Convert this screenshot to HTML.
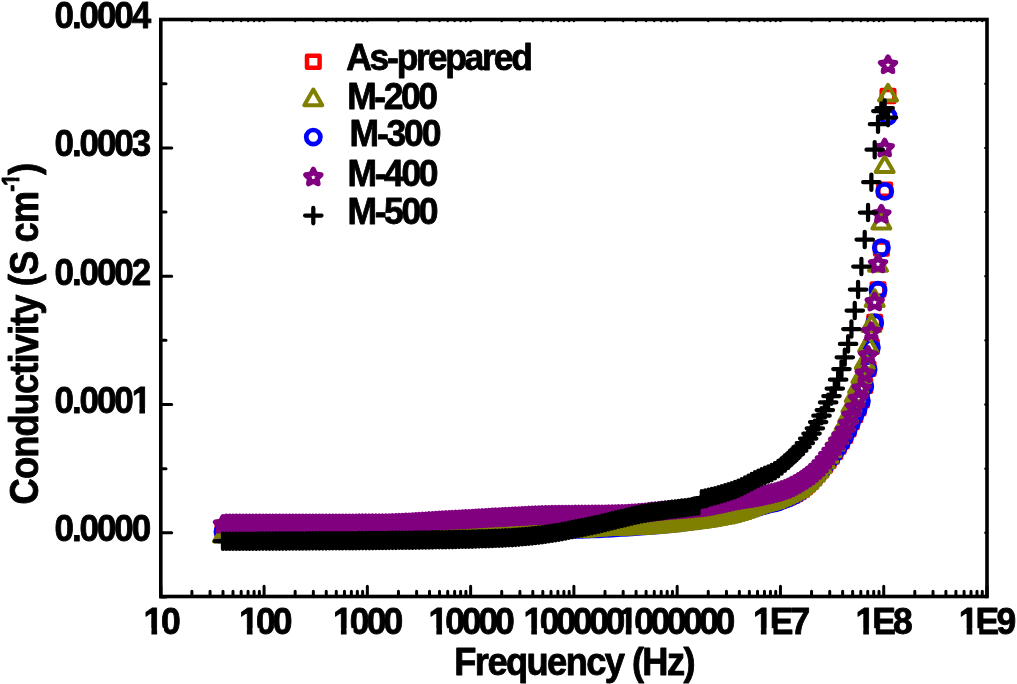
<!DOCTYPE html>
<html lang="en"><head><meta charset="utf-8"><title>Conductivity vs Frequency</title>
<style>html,body{margin:0;padding:0;background:#fff}body{width:1017px;height:684px;overflow:hidden}</style>
</head><body>
<svg width="1017" height="684" viewBox="0 0 1017 684" style="display:block">
<defs>
<g id="sq"><rect x="-6.3" y="-6.0" width="12.6" height="12.0" fill="none" stroke-width="4.5" stroke-linejoin="round"/></g>
<g id="tri"><polygon points="0,-10.4 9.0,5.2 -9.0,5.2" fill="none" stroke-width="4.0" stroke-linejoin="round"/></g>
<g id="cir"><circle r="7.1" fill="none" stroke-width="4.7"/></g>
<g id="star"><polygon points="0.00,-8.00 2.35,-3.24 7.61,-2.47 3.80,1.24 4.70,6.47 0.00,4.00 -4.70,6.47 -3.80,1.24 -7.61,-2.47 -2.35,-3.24" fill="none" stroke-width="5.2" stroke-linejoin="round"/></g>
<g id="plus"><path d="M-8.2,0H8.2M0,-7.7V7.7" fill="none" stroke-width="4.25" stroke-linecap="round"/></g>
<filter id="bl" x="0" y="0" width="100%" height="100%" filterUnits="userSpaceOnUse" primitiveUnits="userSpaceOnUse"><feGaussianBlur stdDeviation="0.7"/></filter>
</defs>
<rect x="0" y="0" width="1017" height="684" fill="#fff" stroke="none"/>
<g filter="url(#bl)">
<rect x="-5" y="-5" width="1027" height="694" fill="#fff" stroke="none"/>
<g stroke="#ff0000">
<use href="#sq" x="222.98" y="530.5"/><use href="#sq" x="226.30" y="529.7"/><use href="#sq" x="229.63" y="529.7"/><use href="#sq" x="232.95" y="529.7"/><use href="#sq" x="236.28" y="529.7"/><use href="#sq" x="239.60" y="529.7"/><use href="#sq" x="242.93" y="529.7"/><use href="#sq" x="246.25" y="529.7"/><use href="#sq" x="249.58" y="529.7"/><use href="#sq" x="252.90" y="529.7"/><use href="#sq" x="256.23" y="529.7"/><use href="#sq" x="259.55" y="529.7"/><use href="#sq" x="262.88" y="529.7"/><use href="#sq" x="266.20" y="529.7"/><use href="#sq" x="269.53" y="529.7"/><use href="#sq" x="272.85" y="529.7"/><use href="#sq" x="276.18" y="529.7"/><use href="#sq" x="279.50" y="529.7"/><use href="#sq" x="282.83" y="529.7"/><use href="#sq" x="286.15" y="529.7"/><use href="#sq" x="289.48" y="529.7"/><use href="#sq" x="292.81" y="529.7"/><use href="#sq" x="296.13" y="529.7"/><use href="#sq" x="299.46" y="529.7"/><use href="#sq" x="302.78" y="529.7"/><use href="#sq" x="306.11" y="529.7"/><use href="#sq" x="309.43" y="529.7"/><use href="#sq" x="312.76" y="529.7"/><use href="#sq" x="316.08" y="529.7"/><use href="#sq" x="319.41" y="529.7"/><use href="#sq" x="322.73" y="529.7"/><use href="#sq" x="326.06" y="529.7"/><use href="#sq" x="329.38" y="529.7"/><use href="#sq" x="332.71" y="529.7"/><use href="#sq" x="336.03" y="529.7"/><use href="#sq" x="339.36" y="529.7"/><use href="#sq" x="342.68" y="529.7"/><use href="#sq" x="346.01" y="529.7"/><use href="#sq" x="349.33" y="529.7"/><use href="#sq" x="352.66" y="529.7"/><use href="#sq" x="355.98" y="529.7"/><use href="#sq" x="359.31" y="529.7"/><use href="#sq" x="362.63" y="529.7"/><use href="#sq" x="365.96" y="529.7"/><use href="#sq" x="369.28" y="529.7"/><use href="#sq" x="372.61" y="529.7"/><use href="#sq" x="375.93" y="529.7"/><use href="#sq" x="379.26" y="529.7"/><use href="#sq" x="382.58" y="529.7"/><use href="#sq" x="385.91" y="529.7"/><use href="#sq" x="389.23" y="529.7"/><use href="#sq" x="392.56" y="529.7"/><use href="#sq" x="395.88" y="529.7"/><use href="#sq" x="399.21" y="529.7"/><use href="#sq" x="402.53" y="529.7"/><use href="#sq" x="405.86" y="529.7"/><use href="#sq" x="409.18" y="529.7"/><use href="#sq" x="412.51" y="529.6"/><use href="#sq" x="415.83" y="529.6"/><use href="#sq" x="419.16" y="529.6"/><use href="#sq" x="422.48" y="529.6"/><use href="#sq" x="425.81" y="529.6"/><use href="#sq" x="429.13" y="529.6"/><use href="#sq" x="432.46" y="529.6"/><use href="#sq" x="435.78" y="529.6"/><use href="#sq" x="439.11" y="529.5"/><use href="#sq" x="442.44" y="529.5"/><use href="#sq" x="445.76" y="529.5"/><use href="#sq" x="449.09" y="529.5"/><use href="#sq" x="452.41" y="529.5"/><use href="#sq" x="455.74" y="529.5"/><use href="#sq" x="459.06" y="529.4"/><use href="#sq" x="462.39" y="529.4"/><use href="#sq" x="465.71" y="529.4"/><use href="#sq" x="469.04" y="529.4"/><use href="#sq" x="472.36" y="529.4"/><use href="#sq" x="475.69" y="529.3"/><use href="#sq" x="479.01" y="529.3"/><use href="#sq" x="482.34" y="529.3"/><use href="#sq" x="485.66" y="529.3"/><use href="#sq" x="488.99" y="529.3"/><use href="#sq" x="492.31" y="529.2"/><use href="#sq" x="495.64" y="529.2"/><use href="#sq" x="498.96" y="529.2"/><use href="#sq" x="502.29" y="529.2"/><use href="#sq" x="505.61" y="529.2"/><use href="#sq" x="508.94" y="529.1"/><use href="#sq" x="512.26" y="529.1"/><use href="#sq" x="515.59" y="529.1"/><use href="#sq" x="518.91" y="529.1"/><use href="#sq" x="522.24" y="529.1"/><use href="#sq" x="525.56" y="529.0"/><use href="#sq" x="528.89" y="529.0"/><use href="#sq" x="532.21" y="529.0"/><use href="#sq" x="535.54" y="529.0"/><use href="#sq" x="538.86" y="528.9"/><use href="#sq" x="542.19" y="528.9"/><use href="#sq" x="545.51" y="528.9"/><use href="#sq" x="548.84" y="528.8"/><use href="#sq" x="552.16" y="528.8"/><use href="#sq" x="555.49" y="528.8"/><use href="#sq" x="558.81" y="528.7"/><use href="#sq" x="562.14" y="528.7"/><use href="#sq" x="565.46" y="528.6"/><use href="#sq" x="568.79" y="528.6"/><use href="#sq" x="572.11" y="528.6"/><use href="#sq" x="575.44" y="528.5"/><use href="#sq" x="578.76" y="528.4"/><use href="#sq" x="582.09" y="528.4"/><use href="#sq" x="585.41" y="528.3"/><use href="#sq" x="588.74" y="528.2"/><use href="#sq" x="592.07" y="528.1"/><use href="#sq" x="595.39" y="528.0"/><use href="#sq" x="598.72" y="527.9"/><use href="#sq" x="602.04" y="527.7"/><use href="#sq" x="605.37" y="527.6"/><use href="#sq" x="608.69" y="527.4"/><use href="#sq" x="612.02" y="527.2"/><use href="#sq" x="615.34" y="527.0"/><use href="#sq" x="618.67" y="526.8"/><use href="#sq" x="621.99" y="526.6"/><use href="#sq" x="625.32" y="526.4"/><use href="#sq" x="628.64" y="526.2"/><use href="#sq" x="631.97" y="525.9"/><use href="#sq" x="635.29" y="525.7"/><use href="#sq" x="638.62" y="525.5"/><use href="#sq" x="641.94" y="525.2"/><use href="#sq" x="645.27" y="525.0"/><use href="#sq" x="648.59" y="524.7"/><use href="#sq" x="651.92" y="524.5"/><use href="#sq" x="655.24" y="524.2"/><use href="#sq" x="658.57" y="523.9"/><use href="#sq" x="661.89" y="523.6"/><use href="#sq" x="665.22" y="523.3"/><use href="#sq" x="668.54" y="523.0"/><use href="#sq" x="671.87" y="522.6"/><use href="#sq" x="675.19" y="522.2"/><use href="#sq" x="678.52" y="521.9"/><use href="#sq" x="681.84" y="521.5"/><use href="#sq" x="685.17" y="521.1"/><use href="#sq" x="688.49" y="520.7"/><use href="#sq" x="691.82" y="520.3"/><use href="#sq" x="695.14" y="519.8"/><use href="#sq" x="698.47" y="519.4"/><use href="#sq" x="701.79" y="518.9"/><use href="#sq" x="705.12" y="518.5"/><use href="#sq" x="708.44" y="518.0"/><use href="#sq" x="711.77" y="517.4"/><use href="#sq" x="715.09" y="516.9"/><use href="#sq" x="718.42" y="516.3"/><use href="#sq" x="721.74" y="515.7"/><use href="#sq" x="725.07" y="515.0"/><use href="#sq" x="728.39" y="514.4"/><use href="#sq" x="731.72" y="513.7"/><use href="#sq" x="735.04" y="512.9"/><use href="#sq" x="738.37" y="512.1"/><use href="#sq" x="741.69" y="511.2"/><use href="#sq" x="745.02" y="510.2"/><use href="#sq" x="748.35" y="509.2"/><use href="#sq" x="751.67" y="508.2"/><use href="#sq" x="755.00" y="507.2"/><use href="#sq" x="758.32" y="506.2"/><use href="#sq" x="761.65" y="505.3"/><use href="#sq" x="764.97" y="504.4"/><use href="#sq" x="768.30" y="503.6"/><use href="#sq" x="771.62" y="502.7"/><use href="#sq" x="774.95" y="501.9"/><use href="#sq" x="778.27" y="500.9"/><use href="#sq" x="781.60" y="499.8"/><use href="#sq" x="784.92" y="498.6"/><use href="#sq" x="788.25" y="497.2"/><use href="#sq" x="791.57" y="495.7"/><use href="#sq" x="794.90" y="494.0"/><use href="#sq" x="798.22" y="492.0"/><use href="#sq" x="801.55" y="489.7"/><use href="#sq" x="804.87" y="486.8"/><use href="#sq" x="808.20" y="483.4"/><use href="#sq" x="811.52" y="479.8"/><use href="#sq" x="814.85" y="476.1"/><use href="#sq" x="818.17" y="472.4"/><use href="#sq" x="821.50" y="468.7"/><use href="#sq" x="824.82" y="464.9"/><use href="#sq" x="828.15" y="460.8"/><use href="#sq" x="831.47" y="456.5"/><use href="#sq" x="834.80" y="451.7"/><use href="#sq" x="838.12" y="446.6"/><use href="#sq" x="841.45" y="441.3"/><use href="#sq" x="844.77" y="435.7"/><use href="#sq" x="848.10" y="429.3"/><use href="#sq" x="851.42" y="421.9"/><use href="#sq" x="854.75" y="415.0"/><use href="#sq" x="858.07" y="408.2"/><use href="#sq" x="861.40" y="400.2"/><use href="#sq" x="864.72" y="385.7"/><use href="#sq" x="868.05" y="368.7"/><use href="#sq" x="871.37" y="346.8"/><use href="#sq" x="874.70" y="322.0"/><use href="#sq" x="878.02" y="289.4"/><use href="#sq" x="881.35" y="248.5"/><use href="#sq" x="884.67" y="189.7"/><use href="#sq" x="888.00" y="96.0"/>
</g>
<g stroke="#0000ff">
<use href="#cir" x="222.98" y="531.8"/><use href="#cir" x="226.30" y="530.5"/><use href="#cir" x="229.63" y="530.5"/><use href="#cir" x="232.95" y="530.5"/><use href="#cir" x="236.28" y="530.5"/><use href="#cir" x="239.60" y="530.5"/><use href="#cir" x="242.93" y="530.5"/><use href="#cir" x="246.25" y="530.5"/><use href="#cir" x="249.58" y="530.5"/><use href="#cir" x="252.90" y="530.5"/><use href="#cir" x="256.23" y="530.5"/><use href="#cir" x="259.55" y="530.5"/><use href="#cir" x="262.88" y="530.5"/><use href="#cir" x="266.20" y="530.5"/><use href="#cir" x="269.53" y="530.5"/><use href="#cir" x="272.85" y="530.5"/><use href="#cir" x="276.18" y="530.5"/><use href="#cir" x="279.50" y="530.5"/><use href="#cir" x="282.83" y="530.5"/><use href="#cir" x="286.15" y="530.5"/><use href="#cir" x="289.48" y="530.5"/><use href="#cir" x="292.81" y="530.5"/><use href="#cir" x="296.13" y="530.5"/><use href="#cir" x="299.46" y="530.5"/><use href="#cir" x="302.78" y="530.5"/><use href="#cir" x="306.11" y="530.5"/><use href="#cir" x="309.43" y="530.5"/><use href="#cir" x="312.76" y="530.5"/><use href="#cir" x="316.08" y="530.5"/><use href="#cir" x="319.41" y="530.5"/><use href="#cir" x="322.73" y="530.5"/><use href="#cir" x="326.06" y="530.5"/><use href="#cir" x="329.38" y="530.5"/><use href="#cir" x="332.71" y="530.5"/><use href="#cir" x="336.03" y="530.5"/><use href="#cir" x="339.36" y="530.5"/><use href="#cir" x="342.68" y="530.5"/><use href="#cir" x="346.01" y="530.5"/><use href="#cir" x="349.33" y="530.5"/><use href="#cir" x="352.66" y="530.5"/><use href="#cir" x="355.98" y="530.5"/><use href="#cir" x="359.31" y="530.5"/><use href="#cir" x="362.63" y="530.5"/><use href="#cir" x="365.96" y="530.5"/><use href="#cir" x="369.28" y="530.5"/><use href="#cir" x="372.61" y="530.5"/><use href="#cir" x="375.93" y="530.5"/><use href="#cir" x="379.26" y="530.5"/><use href="#cir" x="382.58" y="530.5"/><use href="#cir" x="385.91" y="530.5"/><use href="#cir" x="389.23" y="530.5"/><use href="#cir" x="392.56" y="530.5"/><use href="#cir" x="395.88" y="530.5"/><use href="#cir" x="399.21" y="530.5"/><use href="#cir" x="402.53" y="530.5"/><use href="#cir" x="405.86" y="530.5"/><use href="#cir" x="409.18" y="530.5"/><use href="#cir" x="412.51" y="530.4"/><use href="#cir" x="415.83" y="530.4"/><use href="#cir" x="419.16" y="530.4"/><use href="#cir" x="422.48" y="530.4"/><use href="#cir" x="425.81" y="530.4"/><use href="#cir" x="429.13" y="530.4"/><use href="#cir" x="432.46" y="530.4"/><use href="#cir" x="435.78" y="530.4"/><use href="#cir" x="439.11" y="530.3"/><use href="#cir" x="442.44" y="530.3"/><use href="#cir" x="445.76" y="530.3"/><use href="#cir" x="449.09" y="530.3"/><use href="#cir" x="452.41" y="530.3"/><use href="#cir" x="455.74" y="530.3"/><use href="#cir" x="459.06" y="530.2"/><use href="#cir" x="462.39" y="530.2"/><use href="#cir" x="465.71" y="530.2"/><use href="#cir" x="469.04" y="530.2"/><use href="#cir" x="472.36" y="530.2"/><use href="#cir" x="475.69" y="530.1"/><use href="#cir" x="479.01" y="530.1"/><use href="#cir" x="482.34" y="530.1"/><use href="#cir" x="485.66" y="530.1"/><use href="#cir" x="488.99" y="530.1"/><use href="#cir" x="492.31" y="530.0"/><use href="#cir" x="495.64" y="530.0"/><use href="#cir" x="498.96" y="530.0"/><use href="#cir" x="502.29" y="530.0"/><use href="#cir" x="505.61" y="530.0"/><use href="#cir" x="508.94" y="529.9"/><use href="#cir" x="512.26" y="529.9"/><use href="#cir" x="515.59" y="529.9"/><use href="#cir" x="518.91" y="529.9"/><use href="#cir" x="522.24" y="529.9"/><use href="#cir" x="525.56" y="529.8"/><use href="#cir" x="528.89" y="529.8"/><use href="#cir" x="532.21" y="529.8"/><use href="#cir" x="535.54" y="529.8"/><use href="#cir" x="538.86" y="529.7"/><use href="#cir" x="542.19" y="529.7"/><use href="#cir" x="545.51" y="529.7"/><use href="#cir" x="548.84" y="529.6"/><use href="#cir" x="552.16" y="529.6"/><use href="#cir" x="555.49" y="529.6"/><use href="#cir" x="558.81" y="529.5"/><use href="#cir" x="562.14" y="529.5"/><use href="#cir" x="565.46" y="529.4"/><use href="#cir" x="568.79" y="529.4"/><use href="#cir" x="572.11" y="529.4"/><use href="#cir" x="575.44" y="529.3"/><use href="#cir" x="578.76" y="529.2"/><use href="#cir" x="582.09" y="529.2"/><use href="#cir" x="585.41" y="529.1"/><use href="#cir" x="588.74" y="529.0"/><use href="#cir" x="592.07" y="528.9"/><use href="#cir" x="595.39" y="528.8"/><use href="#cir" x="598.72" y="528.7"/><use href="#cir" x="602.04" y="528.5"/><use href="#cir" x="605.37" y="528.4"/><use href="#cir" x="608.69" y="528.2"/><use href="#cir" x="612.02" y="528.0"/><use href="#cir" x="615.34" y="527.8"/><use href="#cir" x="618.67" y="527.6"/><use href="#cir" x="621.99" y="527.4"/><use href="#cir" x="625.32" y="527.2"/><use href="#cir" x="628.64" y="527.0"/><use href="#cir" x="631.97" y="526.7"/><use href="#cir" x="635.29" y="526.5"/><use href="#cir" x="638.62" y="526.3"/><use href="#cir" x="641.94" y="526.0"/><use href="#cir" x="645.27" y="525.8"/><use href="#cir" x="648.59" y="525.5"/><use href="#cir" x="651.92" y="525.3"/><use href="#cir" x="655.24" y="525.0"/><use href="#cir" x="658.57" y="524.7"/><use href="#cir" x="661.89" y="524.4"/><use href="#cir" x="665.22" y="524.1"/><use href="#cir" x="668.54" y="523.8"/><use href="#cir" x="671.87" y="523.4"/><use href="#cir" x="675.19" y="523.0"/><use href="#cir" x="678.52" y="522.7"/><use href="#cir" x="681.84" y="522.3"/><use href="#cir" x="685.17" y="521.9"/><use href="#cir" x="688.49" y="521.5"/><use href="#cir" x="691.82" y="521.1"/><use href="#cir" x="695.14" y="520.6"/><use href="#cir" x="698.47" y="520.2"/><use href="#cir" x="701.79" y="519.7"/><use href="#cir" x="705.12" y="519.3"/><use href="#cir" x="708.44" y="518.8"/><use href="#cir" x="711.77" y="518.2"/><use href="#cir" x="715.09" y="517.7"/><use href="#cir" x="718.42" y="517.1"/><use href="#cir" x="721.74" y="516.5"/><use href="#cir" x="725.07" y="515.8"/><use href="#cir" x="728.39" y="515.2"/><use href="#cir" x="731.72" y="514.5"/><use href="#cir" x="735.04" y="513.7"/><use href="#cir" x="738.37" y="512.9"/><use href="#cir" x="741.69" y="512.0"/><use href="#cir" x="745.02" y="511.0"/><use href="#cir" x="748.35" y="510.0"/><use href="#cir" x="751.67" y="509.0"/><use href="#cir" x="755.00" y="508.0"/><use href="#cir" x="758.32" y="507.0"/><use href="#cir" x="761.65" y="506.1"/><use href="#cir" x="764.97" y="505.2"/><use href="#cir" x="768.30" y="504.4"/><use href="#cir" x="771.62" y="503.5"/><use href="#cir" x="774.95" y="502.7"/><use href="#cir" x="778.27" y="501.7"/><use href="#cir" x="781.60" y="500.6"/><use href="#cir" x="784.92" y="499.4"/><use href="#cir" x="788.25" y="498.0"/><use href="#cir" x="791.57" y="496.5"/><use href="#cir" x="794.90" y="494.8"/><use href="#cir" x="798.22" y="492.8"/><use href="#cir" x="801.55" y="490.5"/><use href="#cir" x="804.87" y="487.6"/><use href="#cir" x="808.20" y="484.2"/><use href="#cir" x="811.52" y="480.6"/><use href="#cir" x="814.85" y="476.9"/><use href="#cir" x="818.17" y="473.2"/><use href="#cir" x="821.50" y="469.5"/><use href="#cir" x="824.82" y="465.7"/><use href="#cir" x="828.15" y="461.6"/><use href="#cir" x="831.47" y="457.3"/><use href="#cir" x="834.80" y="452.5"/><use href="#cir" x="838.12" y="447.4"/><use href="#cir" x="841.45" y="442.1"/><use href="#cir" x="844.77" y="436.5"/><use href="#cir" x="848.10" y="430.1"/><use href="#cir" x="851.42" y="422.7"/><use href="#cir" x="854.75" y="415.8"/><use href="#cir" x="858.07" y="409.0"/><use href="#cir" x="861.40" y="401.0"/><use href="#cir" x="864.72" y="386.5"/><use href="#cir" x="868.05" y="369.5"/><use href="#cir" x="871.37" y="347.6"/><use href="#cir" x="874.70" y="322.8"/><use href="#cir" x="878.02" y="290.2"/><use href="#cir" x="881.35" y="247.8"/><use href="#cir" x="884.67" y="191.4"/><use href="#cir" x="888.00" y="116.3"/>
</g>
<g stroke="#808000">
<use href="#tri" x="222.98" y="536.4"/><use href="#tri" x="226.30" y="531.5"/><use href="#tri" x="229.63" y="531.5"/><use href="#tri" x="232.95" y="531.5"/><use href="#tri" x="236.28" y="531.5"/><use href="#tri" x="239.60" y="531.5"/><use href="#tri" x="242.93" y="531.5"/><use href="#tri" x="246.25" y="531.5"/><use href="#tri" x="249.58" y="531.5"/><use href="#tri" x="252.90" y="531.5"/><use href="#tri" x="256.23" y="531.5"/><use href="#tri" x="259.55" y="531.5"/><use href="#tri" x="262.88" y="531.5"/><use href="#tri" x="266.20" y="531.5"/><use href="#tri" x="269.53" y="531.5"/><use href="#tri" x="272.85" y="531.5"/><use href="#tri" x="276.18" y="531.5"/><use href="#tri" x="279.50" y="531.5"/><use href="#tri" x="282.83" y="531.5"/><use href="#tri" x="286.15" y="531.5"/><use href="#tri" x="289.48" y="531.5"/><use href="#tri" x="292.81" y="531.5"/><use href="#tri" x="296.13" y="531.5"/><use href="#tri" x="299.46" y="531.5"/><use href="#tri" x="302.78" y="531.5"/><use href="#tri" x="306.11" y="531.5"/><use href="#tri" x="309.43" y="531.5"/><use href="#tri" x="312.76" y="531.5"/><use href="#tri" x="316.08" y="531.5"/><use href="#tri" x="319.41" y="531.5"/><use href="#tri" x="322.73" y="531.5"/><use href="#tri" x="326.06" y="531.5"/><use href="#tri" x="329.38" y="531.5"/><use href="#tri" x="332.71" y="531.5"/><use href="#tri" x="336.03" y="531.5"/><use href="#tri" x="339.36" y="531.5"/><use href="#tri" x="342.68" y="531.5"/><use href="#tri" x="346.01" y="531.5"/><use href="#tri" x="349.33" y="531.5"/><use href="#tri" x="352.66" y="531.5"/><use href="#tri" x="355.98" y="531.5"/><use href="#tri" x="359.31" y="531.5"/><use href="#tri" x="362.63" y="531.5"/><use href="#tri" x="365.96" y="531.5"/><use href="#tri" x="369.28" y="531.5"/><use href="#tri" x="372.61" y="531.5"/><use href="#tri" x="375.93" y="531.5"/><use href="#tri" x="379.26" y="531.5"/><use href="#tri" x="382.58" y="531.5"/><use href="#tri" x="385.91" y="531.5"/><use href="#tri" x="389.23" y="531.5"/><use href="#tri" x="392.56" y="531.5"/><use href="#tri" x="395.88" y="531.5"/><use href="#tri" x="399.21" y="531.5"/><use href="#tri" x="402.53" y="531.5"/><use href="#tri" x="405.86" y="531.5"/><use href="#tri" x="409.18" y="531.5"/><use href="#tri" x="412.51" y="531.5"/><use href="#tri" x="415.83" y="531.5"/><use href="#tri" x="419.16" y="531.5"/><use href="#tri" x="422.48" y="531.5"/><use href="#tri" x="425.81" y="531.5"/><use href="#tri" x="429.13" y="531.5"/><use href="#tri" x="432.46" y="531.5"/><use href="#tri" x="435.78" y="531.5"/><use href="#tri" x="439.11" y="531.5"/><use href="#tri" x="442.44" y="531.5"/><use href="#tri" x="445.76" y="531.5"/><use href="#tri" x="449.09" y="531.5"/><use href="#tri" x="452.41" y="531.5"/><use href="#tri" x="455.74" y="531.5"/><use href="#tri" x="459.06" y="531.5"/><use href="#tri" x="462.39" y="531.5"/><use href="#tri" x="465.71" y="531.5"/><use href="#tri" x="469.04" y="531.5"/><use href="#tri" x="472.36" y="531.5"/><use href="#tri" x="475.69" y="531.5"/><use href="#tri" x="479.01" y="531.5"/><use href="#tri" x="482.34" y="531.5"/><use href="#tri" x="485.66" y="531.5"/><use href="#tri" x="488.99" y="531.5"/><use href="#tri" x="492.31" y="531.5"/><use href="#tri" x="495.64" y="531.5"/><use href="#tri" x="498.96" y="531.5"/><use href="#tri" x="502.29" y="531.5"/><use href="#tri" x="505.61" y="531.5"/><use href="#tri" x="508.94" y="531.5"/><use href="#tri" x="512.26" y="531.5"/><use href="#tri" x="515.59" y="531.5"/><use href="#tri" x="518.91" y="531.5"/><use href="#tri" x="522.24" y="531.4"/><use href="#tri" x="525.56" y="531.4"/><use href="#tri" x="528.89" y="531.4"/><use href="#tri" x="532.21" y="531.4"/><use href="#tri" x="535.54" y="531.3"/><use href="#tri" x="538.86" y="531.3"/><use href="#tri" x="542.19" y="531.3"/><use href="#tri" x="545.51" y="531.2"/><use href="#tri" x="548.84" y="531.2"/><use href="#tri" x="552.16" y="531.2"/><use href="#tri" x="555.49" y="531.1"/><use href="#tri" x="558.81" y="531.1"/><use href="#tri" x="562.14" y="531.0"/><use href="#tri" x="565.46" y="530.9"/><use href="#tri" x="568.79" y="530.9"/><use href="#tri" x="572.11" y="530.8"/><use href="#tri" x="575.44" y="530.7"/><use href="#tri" x="578.76" y="530.7"/><use href="#tri" x="582.09" y="530.6"/><use href="#tri" x="585.41" y="530.4"/><use href="#tri" x="588.74" y="530.1"/><use href="#tri" x="592.07" y="529.7"/><use href="#tri" x="595.39" y="529.4"/><use href="#tri" x="598.72" y="529.2"/><use href="#tri" x="602.04" y="529.1"/><use href="#tri" x="605.37" y="528.9"/><use href="#tri" x="608.69" y="528.8"/><use href="#tri" x="612.02" y="528.6"/><use href="#tri" x="615.34" y="528.5"/><use href="#tri" x="618.67" y="528.4"/><use href="#tri" x="621.99" y="528.3"/><use href="#tri" x="625.32" y="528.2"/><use href="#tri" x="628.64" y="528.0"/><use href="#tri" x="631.97" y="527.9"/><use href="#tri" x="635.29" y="527.8"/><use href="#tri" x="638.62" y="527.6"/><use href="#tri" x="641.94" y="527.5"/><use href="#tri" x="645.27" y="527.3"/><use href="#tri" x="648.59" y="527.1"/><use href="#tri" x="651.92" y="526.8"/><use href="#tri" x="655.24" y="526.6"/><use href="#tri" x="658.57" y="526.3"/><use href="#tri" x="661.89" y="526.0"/><use href="#tri" x="665.22" y="525.7"/><use href="#tri" x="668.54" y="525.4"/><use href="#tri" x="671.87" y="525.0"/><use href="#tri" x="675.19" y="524.6"/><use href="#tri" x="678.52" y="524.2"/><use href="#tri" x="681.84" y="523.8"/><use href="#tri" x="685.17" y="523.4"/><use href="#tri" x="688.49" y="523.0"/><use href="#tri" x="691.82" y="522.6"/><use href="#tri" x="695.14" y="522.1"/><use href="#tri" x="698.47" y="521.7"/><use href="#tri" x="701.79" y="521.2"/><use href="#tri" x="705.12" y="520.7"/><use href="#tri" x="708.44" y="520.2"/><use href="#tri" x="711.77" y="519.7"/><use href="#tri" x="715.09" y="519.1"/><use href="#tri" x="718.42" y="518.5"/><use href="#tri" x="721.74" y="517.9"/><use href="#tri" x="725.07" y="517.2"/><use href="#tri" x="728.39" y="516.5"/><use href="#tri" x="731.72" y="515.7"/><use href="#tri" x="735.04" y="514.9"/><use href="#tri" x="738.37" y="513.9"/><use href="#tri" x="741.69" y="512.7"/><use href="#tri" x="745.02" y="511.5"/><use href="#tri" x="748.35" y="510.2"/><use href="#tri" x="751.67" y="509.0"/><use href="#tri" x="755.00" y="507.7"/><use href="#tri" x="758.32" y="506.5"/><use href="#tri" x="761.65" y="505.5"/><use href="#tri" x="764.97" y="504.6"/><use href="#tri" x="768.30" y="503.7"/><use href="#tri" x="771.62" y="502.7"/><use href="#tri" x="774.95" y="501.7"/><use href="#tri" x="778.27" y="500.4"/><use href="#tri" x="781.60" y="499.0"/><use href="#tri" x="784.92" y="497.5"/><use href="#tri" x="788.25" y="495.9"/><use href="#tri" x="791.57" y="494.2"/><use href="#tri" x="794.90" y="492.6"/><use href="#tri" x="798.22" y="490.8"/><use href="#tri" x="801.55" y="488.6"/><use href="#tri" x="804.87" y="485.8"/><use href="#tri" x="808.20" y="482.7"/><use href="#tri" x="811.52" y="479.3"/><use href="#tri" x="814.85" y="475.5"/><use href="#tri" x="818.17" y="471.6"/><use href="#tri" x="821.50" y="467.0"/><use href="#tri" x="824.82" y="462.0"/><use href="#tri" x="828.15" y="456.5"/><use href="#tri" x="831.47" y="450.8"/><use href="#tri" x="834.80" y="444.4"/><use href="#tri" x="838.12" y="437.8"/><use href="#tri" x="841.45" y="431.2"/><use href="#tri" x="844.77" y="424.4"/><use href="#tri" x="848.10" y="416.3"/><use href="#tri" x="851.42" y="406.4"/><use href="#tri" x="854.75" y="396.0"/><use href="#tri" x="858.07" y="387.0"/><use href="#tri" x="861.40" y="377.0"/><use href="#tri" x="864.72" y="363.0"/><use href="#tri" x="868.05" y="346.0"/><use href="#tri" x="871.37" y="325.7"/><use href="#tri" x="874.70" y="300.7"/><use href="#tri" x="878.02" y="265.6"/><use href="#tri" x="881.35" y="223.2"/><use href="#tri" x="884.67" y="166.9"/><use href="#tri" x="888.00" y="95.3"/>
</g>
<g stroke="#800080">
<use href="#star" x="222.98" y="524.6"/><use href="#star" x="226.30" y="524.2"/><use href="#star" x="229.63" y="524.2"/><use href="#star" x="232.95" y="524.2"/><use href="#star" x="236.28" y="524.2"/><use href="#star" x="239.60" y="524.2"/><use href="#star" x="242.93" y="524.1"/><use href="#star" x="246.25" y="524.1"/><use href="#star" x="249.58" y="524.1"/><use href="#star" x="252.90" y="524.1"/><use href="#star" x="256.23" y="524.1"/><use href="#star" x="259.55" y="524.1"/><use href="#star" x="262.88" y="524.1"/><use href="#star" x="266.20" y="524.1"/><use href="#star" x="269.53" y="524.1"/><use href="#star" x="272.85" y="524.1"/><use href="#star" x="276.18" y="524.1"/><use href="#star" x="279.50" y="524.1"/><use href="#star" x="282.83" y="524.1"/><use href="#star" x="286.15" y="524.1"/><use href="#star" x="289.48" y="524.1"/><use href="#star" x="292.81" y="524.1"/><use href="#star" x="296.13" y="524.1"/><use href="#star" x="299.46" y="524.1"/><use href="#star" x="302.78" y="524.1"/><use href="#star" x="306.11" y="524.1"/><use href="#star" x="309.43" y="524.1"/><use href="#star" x="312.76" y="524.1"/><use href="#star" x="316.08" y="524.1"/><use href="#star" x="319.41" y="524.1"/><use href="#star" x="322.73" y="524.1"/><use href="#star" x="326.06" y="524.1"/><use href="#star" x="329.38" y="524.1"/><use href="#star" x="332.71" y="524.1"/><use href="#star" x="336.03" y="524.1"/><use href="#star" x="339.36" y="524.1"/><use href="#star" x="342.68" y="524.1"/><use href="#star" x="346.01" y="524.1"/><use href="#star" x="349.33" y="524.1"/><use href="#star" x="352.66" y="524.1"/><use href="#star" x="355.98" y="524.1"/><use href="#star" x="359.31" y="524.0"/><use href="#star" x="362.63" y="524.0"/><use href="#star" x="365.96" y="524.0"/><use href="#star" x="369.28" y="524.0"/><use href="#star" x="372.61" y="524.0"/><use href="#star" x="375.93" y="524.0"/><use href="#star" x="379.26" y="524.0"/><use href="#star" x="382.58" y="524.0"/><use href="#star" x="385.91" y="523.9"/><use href="#star" x="389.23" y="523.9"/><use href="#star" x="392.56" y="523.8"/><use href="#star" x="395.88" y="523.7"/><use href="#star" x="399.21" y="523.5"/><use href="#star" x="402.53" y="523.4"/><use href="#star" x="405.86" y="523.2"/><use href="#star" x="409.18" y="523.1"/><use href="#star" x="412.51" y="522.9"/><use href="#star" x="415.83" y="522.7"/><use href="#star" x="419.16" y="522.5"/><use href="#star" x="422.48" y="522.3"/><use href="#star" x="425.81" y="522.1"/><use href="#star" x="429.13" y="521.8"/><use href="#star" x="432.46" y="521.6"/><use href="#star" x="435.78" y="521.4"/><use href="#star" x="439.11" y="521.2"/><use href="#star" x="442.44" y="521.0"/><use href="#star" x="445.76" y="520.8"/><use href="#star" x="449.09" y="520.6"/><use href="#star" x="452.41" y="520.5"/><use href="#star" x="455.74" y="520.3"/><use href="#star" x="459.06" y="520.1"/><use href="#star" x="462.39" y="519.9"/><use href="#star" x="465.71" y="519.7"/><use href="#star" x="469.04" y="519.6"/><use href="#star" x="472.36" y="519.4"/><use href="#star" x="475.69" y="519.2"/><use href="#star" x="479.01" y="519.0"/><use href="#star" x="482.34" y="518.8"/><use href="#star" x="485.66" y="518.6"/><use href="#star" x="488.99" y="518.4"/><use href="#star" x="492.31" y="518.2"/><use href="#star" x="495.64" y="518.0"/><use href="#star" x="498.96" y="517.9"/><use href="#star" x="502.29" y="517.7"/><use href="#star" x="505.61" y="517.5"/><use href="#star" x="508.94" y="517.4"/><use href="#star" x="512.26" y="517.2"/><use href="#star" x="515.59" y="517.0"/><use href="#star" x="518.91" y="516.9"/><use href="#star" x="522.24" y="516.7"/><use href="#star" x="525.56" y="516.5"/><use href="#star" x="528.89" y="516.3"/><use href="#star" x="532.21" y="516.2"/><use href="#star" x="535.54" y="516.0"/><use href="#star" x="538.86" y="515.9"/><use href="#star" x="542.19" y="515.8"/><use href="#star" x="545.51" y="515.7"/><use href="#star" x="548.84" y="515.6"/><use href="#star" x="552.16" y="515.5"/><use href="#star" x="555.49" y="515.5"/><use href="#star" x="558.81" y="515.4"/><use href="#star" x="562.14" y="515.4"/><use href="#star" x="565.46" y="515.4"/><use href="#star" x="568.79" y="515.4"/><use href="#star" x="572.11" y="515.4"/><use href="#star" x="575.44" y="515.3"/><use href="#star" x="578.76" y="515.3"/><use href="#star" x="582.09" y="515.3"/><use href="#star" x="585.41" y="515.3"/><use href="#star" x="588.74" y="515.3"/><use href="#star" x="592.07" y="515.2"/><use href="#star" x="595.39" y="515.2"/><use href="#star" x="598.72" y="515.2"/><use href="#star" x="602.04" y="515.1"/><use href="#star" x="605.37" y="515.1"/><use href="#star" x="608.69" y="515.0"/><use href="#star" x="612.02" y="514.9"/><use href="#star" x="615.34" y="514.9"/><use href="#star" x="618.67" y="514.8"/><use href="#star" x="621.99" y="514.7"/><use href="#star" x="625.32" y="514.6"/><use href="#star" x="628.64" y="514.4"/><use href="#star" x="631.97" y="514.2"/><use href="#star" x="635.29" y="514.0"/><use href="#star" x="638.62" y="513.7"/><use href="#star" x="641.94" y="513.4"/><use href="#star" x="645.27" y="513.1"/><use href="#star" x="648.59" y="512.7"/><use href="#star" x="651.92" y="512.3"/><use href="#star" x="655.24" y="512.0"/><use href="#star" x="658.57" y="511.6"/><use href="#star" x="661.89" y="511.3"/><use href="#star" x="665.22" y="511.0"/><use href="#star" x="668.54" y="510.7"/><use href="#star" x="671.87" y="510.4"/><use href="#star" x="675.19" y="510.2"/><use href="#star" x="678.52" y="509.9"/><use href="#star" x="681.84" y="509.7"/><use href="#star" x="685.17" y="509.4"/><use href="#star" x="688.49" y="509.1"/><use href="#star" x="691.82" y="508.8"/><use href="#star" x="695.14" y="508.4"/><use href="#star" x="698.47" y="508.1"/><use href="#star" x="701.79" y="507.6"/><use href="#star" x="705.12" y="507.1"/><use href="#star" x="708.44" y="506.5"/><use href="#star" x="711.77" y="505.8"/><use href="#star" x="715.09" y="505.1"/><use href="#star" x="718.42" y="504.4"/><use href="#star" x="721.74" y="503.7"/><use href="#star" x="725.07" y="502.9"/><use href="#star" x="728.39" y="502.2"/><use href="#star" x="731.72" y="501.5"/><use href="#star" x="735.04" y="500.9"/><use href="#star" x="738.37" y="500.3"/><use href="#star" x="741.69" y="499.8"/><use href="#star" x="745.02" y="499.2"/><use href="#star" x="748.35" y="498.7"/><use href="#star" x="751.67" y="498.1"/><use href="#star" x="755.00" y="497.5"/><use href="#star" x="758.32" y="496.9"/><use href="#star" x="761.65" y="496.1"/><use href="#star" x="764.97" y="495.4"/><use href="#star" x="768.30" y="494.6"/><use href="#star" x="771.62" y="493.8"/><use href="#star" x="774.95" y="492.9"/><use href="#star" x="778.27" y="491.9"/><use href="#star" x="781.60" y="490.8"/><use href="#star" x="784.92" y="489.6"/><use href="#star" x="788.25" y="488.1"/><use href="#star" x="791.57" y="486.5"/><use href="#star" x="794.90" y="484.7"/><use href="#star" x="798.22" y="482.8"/><use href="#star" x="801.55" y="480.7"/><use href="#star" x="804.87" y="478.5"/><use href="#star" x="808.20" y="476.2"/><use href="#star" x="811.52" y="473.6"/><use href="#star" x="814.85" y="470.7"/><use href="#star" x="818.17" y="467.7"/><use href="#star" x="821.50" y="464.2"/><use href="#star" x="824.82" y="460.3"/><use href="#star" x="828.15" y="456.1"/><use href="#star" x="831.47" y="451.7"/><use href="#star" x="834.80" y="446.8"/><use href="#star" x="838.12" y="441.6"/><use href="#star" x="841.45" y="436.3"/><use href="#star" x="844.77" y="430.7"/><use href="#star" x="848.10" y="424.0"/><use href="#star" x="851.42" y="415.8"/><use href="#star" x="854.75" y="407.7"/><use href="#star" x="858.07" y="399.1"/><use href="#star" x="861.40" y="388.9"/><use href="#star" x="864.72" y="373.9"/><use href="#star" x="868.05" y="355.6"/><use href="#star" x="871.37" y="332.0"/><use href="#star" x="874.70" y="302.3"/><use href="#star" x="878.02" y="264.2"/><use href="#star" x="881.35" y="214.5"/><use href="#star" x="884.67" y="148.3"/><use href="#star" x="888.00" y="65.0"/>
</g>
<g stroke="#000000">
<use href="#plus" x="222.98" y="541.2"/><use href="#plus" x="226.30" y="541.2"/><use href="#plus" x="229.63" y="541.2"/><use href="#plus" x="232.95" y="541.2"/><use href="#plus" x="236.28" y="541.2"/><use href="#plus" x="239.60" y="541.2"/><use href="#plus" x="242.93" y="541.2"/><use href="#plus" x="246.25" y="541.2"/><use href="#plus" x="249.58" y="541.2"/><use href="#plus" x="252.90" y="541.2"/><use href="#plus" x="256.23" y="541.2"/><use href="#plus" x="259.55" y="541.1"/><use href="#plus" x="262.88" y="541.1"/><use href="#plus" x="266.20" y="541.1"/><use href="#plus" x="269.53" y="541.1"/><use href="#plus" x="272.85" y="541.1"/><use href="#plus" x="276.18" y="541.1"/><use href="#plus" x="279.50" y="541.1"/><use href="#plus" x="282.83" y="541.1"/><use href="#plus" x="286.15" y="541.1"/><use href="#plus" x="289.48" y="541.0"/><use href="#plus" x="292.81" y="541.0"/><use href="#plus" x="296.13" y="541.0"/><use href="#plus" x="299.46" y="541.0"/><use href="#plus" x="302.78" y="541.0"/><use href="#plus" x="306.11" y="541.0"/><use href="#plus" x="309.43" y="540.9"/><use href="#plus" x="312.76" y="540.9"/><use href="#plus" x="316.08" y="540.9"/><use href="#plus" x="319.41" y="540.9"/><use href="#plus" x="322.73" y="540.9"/><use href="#plus" x="326.06" y="540.9"/><use href="#plus" x="329.38" y="540.8"/><use href="#plus" x="332.71" y="540.8"/><use href="#plus" x="336.03" y="540.8"/><use href="#plus" x="339.36" y="540.8"/><use href="#plus" x="342.68" y="540.8"/><use href="#plus" x="346.01" y="540.7"/><use href="#plus" x="349.33" y="540.7"/><use href="#plus" x="352.66" y="540.7"/><use href="#plus" x="355.98" y="540.7"/><use href="#plus" x="359.31" y="540.6"/><use href="#plus" x="362.63" y="540.6"/><use href="#plus" x="365.96" y="540.6"/><use href="#plus" x="369.28" y="540.6"/><use href="#plus" x="372.61" y="540.6"/><use href="#plus" x="375.93" y="540.5"/><use href="#plus" x="379.26" y="540.5"/><use href="#plus" x="382.58" y="540.5"/><use href="#plus" x="385.91" y="540.5"/><use href="#plus" x="389.23" y="540.4"/><use href="#plus" x="392.56" y="540.4"/><use href="#plus" x="395.88" y="540.4"/><use href="#plus" x="399.21" y="540.3"/><use href="#plus" x="402.53" y="540.3"/><use href="#plus" x="405.86" y="540.3"/><use href="#plus" x="409.18" y="540.2"/><use href="#plus" x="412.51" y="540.2"/><use href="#plus" x="415.83" y="540.1"/><use href="#plus" x="419.16" y="540.1"/><use href="#plus" x="422.48" y="540.0"/><use href="#plus" x="425.81" y="540.0"/><use href="#plus" x="429.13" y="540.0"/><use href="#plus" x="432.46" y="539.9"/><use href="#plus" x="435.78" y="539.8"/><use href="#plus" x="439.11" y="539.8"/><use href="#plus" x="442.44" y="539.7"/><use href="#plus" x="445.76" y="539.7"/><use href="#plus" x="449.09" y="539.6"/><use href="#plus" x="452.41" y="539.6"/><use href="#plus" x="455.74" y="539.5"/><use href="#plus" x="459.06" y="539.4"/><use href="#plus" x="462.39" y="539.3"/><use href="#plus" x="465.71" y="539.3"/><use href="#plus" x="469.04" y="539.2"/><use href="#plus" x="472.36" y="539.1"/><use href="#plus" x="475.69" y="539.0"/><use href="#plus" x="479.01" y="538.9"/><use href="#plus" x="482.34" y="538.8"/><use href="#plus" x="485.66" y="538.7"/><use href="#plus" x="488.99" y="538.6"/><use href="#plus" x="492.31" y="538.5"/><use href="#plus" x="495.64" y="538.3"/><use href="#plus" x="498.96" y="538.2"/><use href="#plus" x="502.29" y="538.1"/><use href="#plus" x="505.61" y="537.9"/><use href="#plus" x="508.94" y="537.8"/><use href="#plus" x="512.26" y="537.6"/><use href="#plus" x="515.59" y="537.4"/><use href="#plus" x="518.91" y="537.1"/><use href="#plus" x="522.24" y="536.8"/><use href="#plus" x="525.56" y="536.5"/><use href="#plus" x="528.89" y="536.2"/><use href="#plus" x="532.21" y="535.9"/><use href="#plus" x="535.54" y="535.5"/><use href="#plus" x="538.86" y="535.1"/><use href="#plus" x="542.19" y="534.7"/><use href="#plus" x="545.51" y="534.2"/><use href="#plus" x="548.84" y="533.8"/><use href="#plus" x="552.16" y="533.3"/><use href="#plus" x="555.49" y="532.8"/><use href="#plus" x="558.81" y="532.3"/><use href="#plus" x="562.14" y="531.6"/><use href="#plus" x="565.46" y="531.0"/><use href="#plus" x="568.79" y="530.3"/><use href="#plus" x="572.11" y="529.6"/><use href="#plus" x="575.44" y="528.9"/><use href="#plus" x="578.76" y="528.3"/><use href="#plus" x="582.09" y="527.6"/><use href="#plus" x="585.41" y="527.0"/><use href="#plus" x="588.74" y="526.3"/><use href="#plus" x="592.07" y="525.6"/><use href="#plus" x="595.39" y="524.9"/><use href="#plus" x="598.72" y="524.2"/><use href="#plus" x="602.04" y="523.4"/><use href="#plus" x="605.37" y="522.6"/><use href="#plus" x="608.69" y="521.8"/><use href="#plus" x="612.02" y="520.9"/><use href="#plus" x="615.34" y="520.1"/><use href="#plus" x="618.67" y="519.3"/><use href="#plus" x="621.99" y="518.5"/><use href="#plus" x="625.32" y="517.7"/><use href="#plus" x="628.64" y="516.9"/><use href="#plus" x="631.97" y="516.1"/><use href="#plus" x="635.29" y="515.3"/><use href="#plus" x="638.62" y="514.6"/><use href="#plus" x="641.94" y="513.9"/><use href="#plus" x="645.27" y="513.2"/><use href="#plus" x="648.59" y="512.6"/><use href="#plus" x="651.92" y="512.1"/><use href="#plus" x="655.24" y="511.6"/><use href="#plus" x="658.57" y="511.2"/><use href="#plus" x="661.89" y="510.7"/><use href="#plus" x="665.22" y="510.3"/><use href="#plus" x="668.54" y="509.8"/><use href="#plus" x="671.87" y="509.4"/><use href="#plus" x="675.19" y="509.0"/><use href="#plus" x="678.52" y="508.5"/><use href="#plus" x="681.84" y="508.1"/><use href="#plus" x="685.17" y="507.7"/><use href="#plus" x="688.49" y="507.2"/><use href="#plus" x="691.82" y="506.8"/><use href="#plus" x="695.14" y="506.4"/><use href="#plus" x="698.47" y="506.0"/><use href="#plus" x="701.79" y="498.7"/><use href="#plus" x="705.12" y="498.1"/><use href="#plus" x="708.44" y="497.4"/><use href="#plus" x="711.77" y="496.6"/><use href="#plus" x="715.09" y="495.8"/><use href="#plus" x="718.42" y="494.9"/><use href="#plus" x="721.74" y="493.9"/><use href="#plus" x="725.07" y="492.9"/><use href="#plus" x="728.39" y="491.8"/><use href="#plus" x="731.72" y="490.7"/><use href="#plus" x="735.04" y="489.6"/><use href="#plus" x="738.37" y="488.2"/><use href="#plus" x="741.69" y="486.7"/><use href="#plus" x="745.02" y="485.1"/><use href="#plus" x="748.35" y="483.4"/><use href="#plus" x="751.67" y="481.6"/><use href="#plus" x="755.00" y="479.9"/><use href="#plus" x="758.32" y="478.3"/><use href="#plus" x="761.65" y="476.8"/><use href="#plus" x="764.97" y="475.4"/><use href="#plus" x="768.30" y="474.0"/><use href="#plus" x="771.62" y="472.6"/><use href="#plus" x="774.95" y="470.8"/><use href="#plus" x="778.27" y="468.6"/><use href="#plus" x="781.60" y="466.0"/><use href="#plus" x="784.92" y="463.1"/><use href="#plus" x="788.25" y="460.2"/><use href="#plus" x="791.57" y="457.1"/><use href="#plus" x="794.90" y="454.0"/><use href="#plus" x="798.22" y="450.7"/><use href="#plus" x="801.55" y="447.1"/><use href="#plus" x="804.87" y="443.1"/><use href="#plus" x="808.20" y="438.6"/><use href="#plus" x="811.52" y="433.6"/><use href="#plus" x="814.85" y="428.3"/><use href="#plus" x="818.17" y="422.0"/><use href="#plus" x="821.50" y="415.7"/><use href="#plus" x="824.82" y="410.0"/><use href="#plus" x="828.15" y="402.4"/><use href="#plus" x="831.47" y="396.1"/><use href="#plus" x="834.80" y="388.5"/><use href="#plus" x="838.12" y="379.7"/><use href="#plus" x="841.45" y="369.0"/><use href="#plus" x="844.77" y="357.3"/><use href="#plus" x="848.10" y="343.9"/><use href="#plus" x="851.42" y="329.0"/><use href="#plus" x="854.75" y="310.5"/><use href="#plus" x="858.07" y="289.5"/><use href="#plus" x="861.40" y="266.5"/><use href="#plus" x="864.72" y="239.5"/><use href="#plus" x="868.05" y="212.5"/><use href="#plus" x="871.37" y="182.2"/><use href="#plus" x="874.70" y="149.7"/><use href="#plus" x="878.02" y="124.2"/><use href="#plus" x="881.35" y="111.0"/><use href="#plus" x="884.67" y="108.0"/><use href="#plus" x="888.00" y="117.6"/>
</g>
<rect x="160.8" y="19.5" width="826.2" height="577.0" fill="none" stroke="#000" stroke-width="3.6"/>
<path d="M160.8,19.59999999999991H171.70000000000002M160.8,83.74999999999991H166.0M160.8,147.89999999999992H171.70000000000002M160.8,212.04999999999993H166.0M160.8,276.19999999999993H171.70000000000002M160.8,340.3499999999999H166.0M160.8,404.49999999999994H171.70000000000002M160.8,468.65H166.0M160.8,532.8H171.70000000000002M160.8,596.9499999999999H166.0M160.80,596.5V586.2M191.89,596.5V591.3M210.07,596.5V591.3M222.98,596.5V591.3M232.99,596.5V591.3M241.16,596.5V591.3M248.08,596.5V591.3M254.07,596.5V591.3M259.35,596.5V591.3M264.08,596.5V586.2M295.16,596.5V591.3M313.35,596.5V591.3M326.25,596.5V591.3M336.26,596.5V591.3M344.44,596.5V591.3M351.35,596.5V591.3M357.34,596.5V591.3M362.62,596.5V591.3M367.35,596.5V586.2M398.44,596.5V591.3M416.62,596.5V591.3M429.53,596.5V591.3M439.54,596.5V591.3M447.71,596.5V591.3M454.63,596.5V591.3M460.62,596.5V591.3M465.90,596.5V591.3M470.63,596.5V586.2M501.71,596.5V591.3M519.90,596.5V591.3M532.80,596.5V591.3M542.81,596.5V591.3M550.99,596.5V591.3M557.90,596.5V591.3M563.89,596.5V591.3M569.17,596.5V591.3M573.90,596.5V586.2M604.99,596.5V591.3M623.17,596.5V591.3M636.08,596.5V591.3M646.09,596.5V591.3M654.26,596.5V591.3M661.18,596.5V591.3M667.17,596.5V591.3M672.45,596.5V591.3M677.17,596.5V586.2M708.26,596.5V591.3M726.45,596.5V591.3M739.35,596.5V591.3M749.36,596.5V591.3M757.54,596.5V591.3M764.45,596.5V591.3M770.44,596.5V591.3M775.72,596.5V591.3M780.45,596.5V586.2M811.54,596.5V591.3M829.72,596.5V591.3M842.63,596.5V591.3M852.64,596.5V591.3M860.81,596.5V591.3M867.73,596.5V591.3M873.72,596.5V591.3M879.00,596.5V591.3M883.73,596.5V586.2M914.81,596.5V591.3M933.00,596.5V591.3M945.90,596.5V591.3M955.91,596.5V591.3M964.09,596.5V591.3M971.00,596.5V591.3M976.99,596.5V591.3M982.27,596.5V591.3M987.00,596.5V586.2" stroke="#000" stroke-width="3.0" fill="none" stroke-linecap="round"/>
<path d="M987.0,83.75h-1.6M987.0,147.90h-1.6M987.0,212.05h-1.6M987.0,276.20h-1.6M987.0,340.35h-1.6M987.0,404.50h-1.6M987.0,468.65h-1.6M987.0,532.80h-1.6M987.0,596.95h-1.6M191.89,19.5v1.6M210.07,19.5v1.6M222.98,19.5v1.6M232.99,19.5v1.6M241.16,19.5v1.6M248.08,19.5v1.6M254.07,19.5v1.6M259.35,19.5v1.6M264.08,19.5v1.6M295.16,19.5v1.6M313.35,19.5v1.6M326.25,19.5v1.6M336.26,19.5v1.6M344.44,19.5v1.6M351.35,19.5v1.6M357.34,19.5v1.6M362.62,19.5v1.6M367.35,19.5v1.6M398.44,19.5v1.6M416.62,19.5v1.6M429.53,19.5v1.6M439.54,19.5v1.6M447.71,19.5v1.6M454.63,19.5v1.6M460.62,19.5v1.6M465.90,19.5v1.6M470.63,19.5v1.6M501.71,19.5v1.6M519.90,19.5v1.6M532.80,19.5v1.6M542.81,19.5v1.6M550.99,19.5v1.6M557.90,19.5v1.6M563.89,19.5v1.6M569.17,19.5v1.6M573.90,19.5v1.6M604.99,19.5v1.6M623.17,19.5v1.6M636.08,19.5v1.6M646.09,19.5v1.6M654.26,19.5v1.6M661.18,19.5v1.6M667.17,19.5v1.6M672.45,19.5v1.6M677.17,19.5v1.6M708.26,19.5v1.6M726.45,19.5v1.6M739.35,19.5v1.6M749.36,19.5v1.6M757.54,19.5v1.6M764.45,19.5v1.6M770.44,19.5v1.6M775.72,19.5v1.6M780.45,19.5v1.6M811.54,19.5v1.6M829.72,19.5v1.6M842.63,19.5v1.6M852.64,19.5v1.6M860.81,19.5v1.6M867.73,19.5v1.6M873.72,19.5v1.6M879.00,19.5v1.6M883.73,19.5v1.6M914.81,19.5v1.6M933.00,19.5v1.6M945.90,19.5v1.6M955.91,19.5v1.6M964.09,19.5v1.6M971.00,19.5v1.6M976.99,19.5v1.6M982.27,19.5v1.6" stroke="#000" stroke-width="2.4" fill="none" stroke-linecap="round"/>
<g font-family="'Liberation Sans', sans-serif" font-weight="bold" fill="#000" stroke="#000" stroke-width="0.8" stroke-linejoin="round" font-size="35" text-anchor="end" letter-spacing="-2.1">
<text transform="translate(149,28.1) scale(1,1.035)">0.0004</text>
<text transform="translate(149,156.4) scale(1,1.035)">0.0003</text>
<text transform="translate(149,284.7) scale(1,1.035)">0.0002</text>
<text transform="translate(149,413.0) scale(1,1.035)">0.0001</text>
<rect x="131.94" y="407.54" width="7.46" height="7.67" fill="#fff" stroke="none"/><rect x="145.01" y="407.54" width="6.82" height="7.67" fill="#fff" stroke="none"/>
<text transform="translate(149,541.3) scale(1,1.035)">0.0000</text>
</g>
<g font-family="'Liberation Sans', sans-serif" font-weight="bold" fill="#000" stroke="#000" stroke-width="0.8" stroke-linejoin="round" font-size="35.5" text-anchor="middle">
<text transform="translate(986.0,633.7) scale(1,1.035)" letter-spacing="-2.9">1E9</text>
<rect x="959.10" y="628.19" width="7.55" height="7.72" fill="#fff" stroke="none"/><rect x="972.32" y="628.19" width="6.90" height="7.72" fill="#fff" stroke="none"/>
<text transform="translate(882.6,633.7) scale(1,1.035)" letter-spacing="-2.9">1E8</text>
<rect x="855.70" y="628.19" width="7.55" height="7.72" fill="#fff" stroke="none"/><rect x="868.92" y="628.19" width="6.90" height="7.72" fill="#fff" stroke="none"/>
<text transform="translate(780.2,633.7) scale(1,1.035)" letter-spacing="-2.9">1E7</text>
<rect x="753.30" y="628.19" width="7.55" height="7.72" fill="#fff" stroke="none"/><rect x="766.52" y="628.19" width="6.90" height="7.72" fill="#fff" stroke="none"/>
<text transform="translate(674.8,633.7) scale(1,1.035)" letter-spacing="-3.5">1000000</text>
<rect x="618.28" y="628.19" width="7.55" height="7.72" fill="#fff" stroke="none"/><rect x="631.50" y="628.19" width="6.90" height="7.72" fill="#fff" stroke="none"/>
<text transform="translate(572.7,633.7) scale(1,1.035)" letter-spacing="-3.3">100000</text>
<rect x="523.71" y="628.19" width="7.55" height="7.72" fill="#fff" stroke="none"/><rect x="536.93" y="628.19" width="6.90" height="7.72" fill="#fff" stroke="none"/>
<text transform="translate(470.1,633.7) scale(1,1.035)" letter-spacing="-3.1">10000</text>
<rect x="428.83" y="628.19" width="7.55" height="7.72" fill="#fff" stroke="none"/><rect x="442.05" y="628.19" width="6.90" height="7.72" fill="#fff" stroke="none"/>
<text transform="translate(366.7,633.7) scale(1,1.035)" letter-spacing="-2.9">1000</text>
<rect x="333.35" y="628.19" width="7.55" height="7.72" fill="#fff" stroke="none"/><rect x="346.57" y="628.19" width="6.90" height="7.72" fill="#fff" stroke="none"/>
<text transform="translate(264.4,633.7) scale(1,1.035)" letter-spacing="-2.8">100</text>
<rect x="239.32" y="628.19" width="7.55" height="7.72" fill="#fff" stroke="none"/><rect x="252.54" y="628.19" width="6.90" height="7.72" fill="#fff" stroke="none"/>
<text transform="translate(161.1,633.7) scale(1,1.035)" letter-spacing="-2.2">10</text>
<rect x="143.89" y="628.19" width="7.55" height="7.72" fill="#fff" stroke="none"/><rect x="157.11" y="628.19" width="6.90" height="7.72" fill="#fff" stroke="none"/>
</g>
<text font-family="'Liberation Sans', sans-serif" font-weight="bold" fill="#000" stroke="#000" stroke-width="0.8" stroke-linejoin="round" font-size="36.3" transform="translate(454.3,674.8) scale(1,1.055)" letter-spacing="-1.6">Frequency (Hz)</text>
<g transform="translate(37.7,504.4) rotate(-90) scale(1,1.105)"><text font-family="'Liberation Sans', sans-serif" font-weight="bold" fill="#000" stroke="#000" stroke-width="0.8" stroke-linejoin="round" font-size="36.3" letter-spacing="-0.9">Conductivity (S cm<tspan font-size="21" dy="-17.2">-1</tspan><tspan dy="17.2">)</tspan></text><rect x="318.04" y="-21.04" width="5.08" height="6.04" fill="#fff" stroke="none"/><rect x="326.80" y="-21.04" width="4.61" height="6.04" fill="#fff" stroke="none"/></g>
<g font-family="'Liberation Sans', sans-serif" font-weight="bold" fill="#000" stroke="#000" stroke-width="0.8" stroke-linejoin="round" font-size="35.5">
<use href="#sq" x="313.3" y="61.8" stroke="#ff0000"/>
<text transform="translate(346.2,69.6) scale(1,1.015)" letter-spacing="-2.24">As-prepared</text>
<use href="#tri" x="313.3" y="100.0" stroke="#808000"/>
<text transform="translate(347.2,108.6) scale(1,1.015)" letter-spacing="-2.45">M-200</text>
<use href="#cir" x="313.3" y="137.1" stroke="#0000ff"/>
<text transform="translate(349.6,145.7) scale(1,1.015)" letter-spacing="-2.2">M-300</text>
<use href="#star" x="313.3" y="177.3" stroke="#800080"/>
<text transform="translate(347.5,185.9) scale(1,1.015)" letter-spacing="-2.4">M-400</text>
<use href="#plus" x="313.3" y="215.6" stroke="#000000"/>
<text transform="translate(347.5,223.7) scale(1,1.015)" letter-spacing="-2.4">M-500</text>
</g>
</g>
</svg>
</body></html>
